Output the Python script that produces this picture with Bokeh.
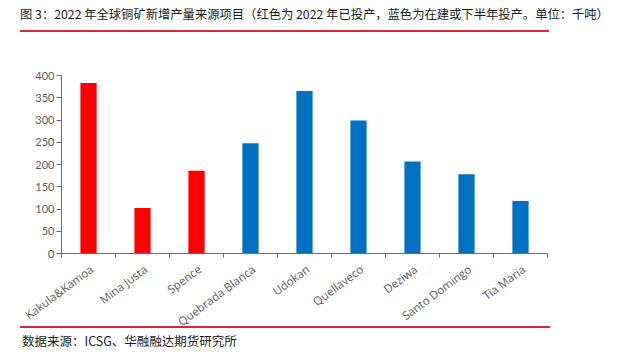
import numpy as np
from bokeh.plotting import figure
from bokeh.models import ColumnDataSource, Div, FixedTicker, Range1d
from bokeh.layouts import column
from bokeh.embed import file_html
from bokeh.resources import INLINE

# ---- data ----
projects = ["Kakula&Kamoa", "Mina Justa", "Spence", "Quebrada Blanca", "Udokan",
            "Quellaveco", "Deziwa", "Santo Domingo", "Tia Maria"]
output_kt = [383, 102, 186, 248, 365, 299, 207, 178, 118]
status = ["已投产", "已投产", "已投产", "在建", "在建", "在建", "在建", "在建", "在建"]
y_ticks = [0, 50, 100, 150, 200, 250, 300, 350, 400]

title_text = "图 3：2022 年全球铜矿新增产量来源项目（红色为 2022 年已投产，蓝色为在建或下半年投产。单位：千吨）"
source_text = "数据来源：ICSG、华融融达期货研究所"

color_map = {"已投产": "#FF0000", "在建": "#0070C0"}
xpos = np.arange(len(projects)) + 0.5
src = ColumnDataSource(dict(x=xpos, top=output_kt, color=[color_map[s] for s in status]))

CJK = "Noto Sans CJK SC"

title_div = Div(
    text=(f'<div style="position:relative;width:620px;height:38px;">'
          f'<div style="position:absolute;left:20px;top:6px;font-family:\'{CJK}\';font-size:12.3px;'
          f'color:#1a1a1a;white-space:nowrap;line-height:16px;">{title_text}</div>'
          f'<div style="position:absolute;left:20px;top:30px;width:529px;height:2px;background:#E0262A;"></div>'
          f'</div>'),
    width=620, height=38, margin=(0, 0, 0, 0))

p = figure(width=620, height=300, output_backend="svg", toolbar_location=None,
           x_range=Range1d(0, len(projects)), y_range=Range1d(0, 400),
           min_border_left=61, min_border_right=73, min_border_top=37, min_border_bottom=85)
p.margin = (0, 0, 0, 0)
p.outline_line_color = None
p.grid.grid_line_color = None
p.background_fill_color = "white"
p.border_fill_color = "white"

p.vbar(x="x", top="top", width=0.3, color="color", source=src, line_color=None)

axis_color = "#6b6b6b"
label_color = "#595959"

p.yaxis.ticker = FixedTicker(ticks=y_ticks)
p.yaxis.axis_line_color = axis_color
p.yaxis.major_tick_line_color = axis_color
p.yaxis.major_tick_out = 5
p.yaxis.major_tick_in = 0
p.yaxis.minor_tick_line_color = None
p.yaxis.major_label_text_font = "Lato"
p.yaxis.major_label_text_font_size = "11px"
p.yaxis.major_label_text_color = label_color
p.yaxis.major_label_standoff = 2

# label anchors sit slightly right of bar centres (as in the original), ticks at category edges
label_pos = [float(x) + 0.06 for x in xpos]
p.xaxis.ticker = FixedTicker(ticks=label_pos, minor_ticks=list(range(len(projects) + 1)))
p.xaxis.major_label_overrides = {lp: name for lp, name in zip(label_pos, projects)}
p.xaxis.axis_line_color = axis_color
p.xaxis.major_tick_line_color = None
p.xaxis.major_tick_out = 0
p.xaxis.major_tick_in = 0
p.xaxis.minor_tick_line_color = axis_color
p.xaxis.minor_tick_out = 4
p.xaxis.minor_tick_in = 0
p.xaxis.major_label_orientation = 0.64
p.xaxis.major_label_standoff = 10
p.xaxis.major_label_text_font = "Open Sans"
p.xaxis.major_label_text_font_size = "11.5px"
p.xaxis.major_label_text_color = label_color

source_div = Div(
    text=(f'<div style="position:relative;width:620px;height:30px;">'
          f'<div style="position:absolute;left:20px;top:0px;width:530px;height:2px;background:#E0262A;"></div>'
          f'<div style="position:absolute;left:22px;top:7px;font-family:\'{CJK}\';font-size:12.5px;'
          f'color:#1a1a1a;white-space:nowrap;line-height:16px;">{source_text}</div>'
          f'</div>'),
    width=620, height=30, margin=(-12, 0, 0, 0))

layout = column(title_div, p, source_div, spacing=0, margin=(0, 0, 0, 0))

open("out.html", "w").write(file_html(layout, INLINE))
